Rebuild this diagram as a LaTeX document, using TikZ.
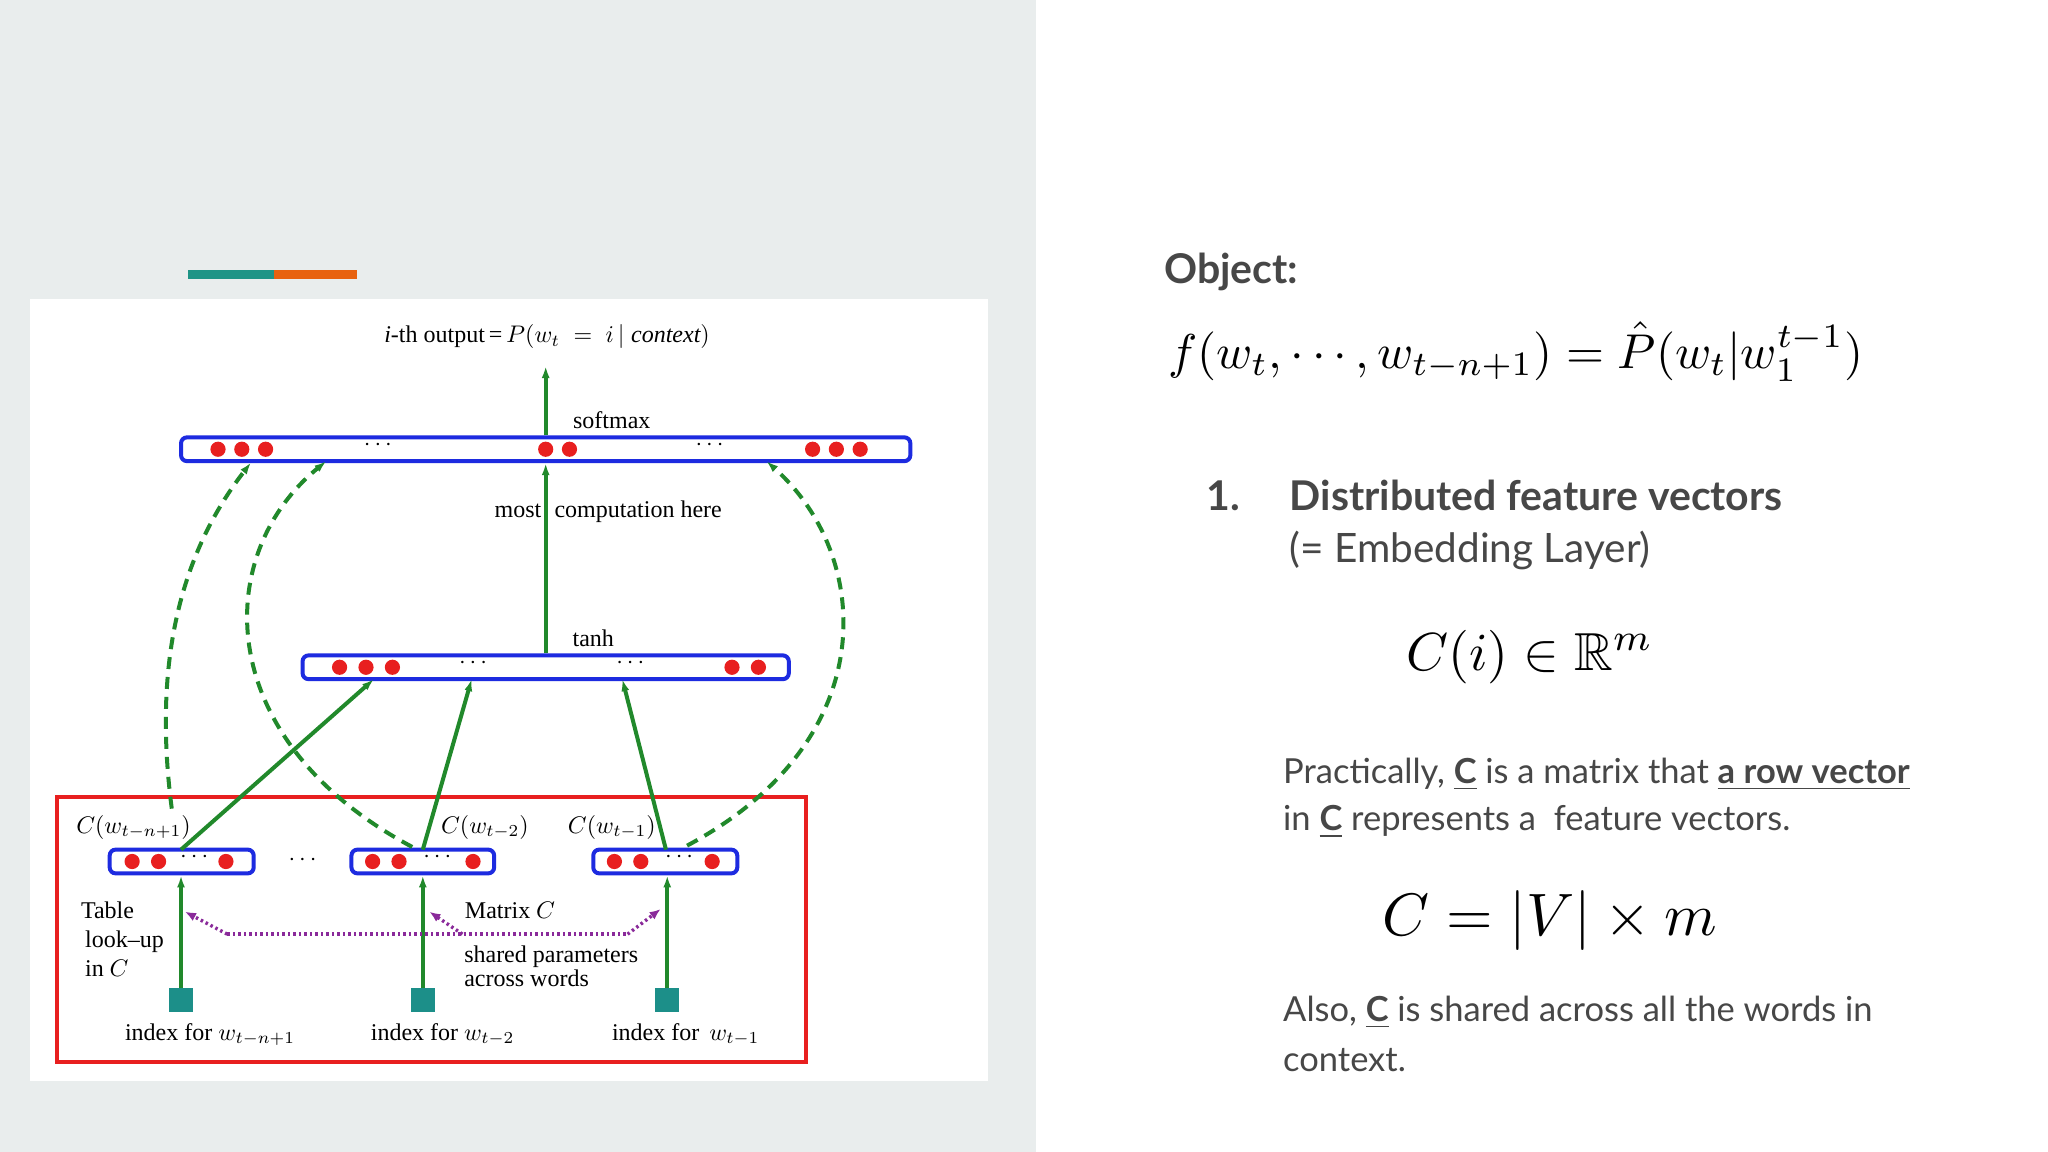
\documentclass[tikz,border=0pt]{standalone}
\usepackage{fontspec}
\usepackage{amssymb}
\setmainfont{Liberation Serif}
\newfontfamily\lato{Lato}
\usetikzlibrary{arrows.meta}
\definecolor{bgl}{HTML}{E9EDED}
\definecolor{tealb}{HTML}{1E9486}
\definecolor{orng}{HTML}{E8620F}
\definecolor{gline}{HTML}{21892B}
\definecolor{bl}{HTML}{1D2BE0}
\definecolor{rd}{HTML}{E81F1F}
\definecolor{pur}{HTML}{8A2A9A}
\definecolor{txt}{HTML}{474747}
\definecolor{sq}{HTML}{1C8F89}
\tikzset{
  layer/.style={draw=bl,line width=4pt,rounded corners=6pt,inner sep=0pt,minimum height=18*1.3213pt},
  dotr/.style={circle,fill=rd,inner sep=0pt,minimum size=11.5*1.3213pt},
  garrow/.style={draw=gline,line width=4pt,-{Latex[length=12pt,width=8pt]}},
  gdash/.style={draw=gline,line width=4pt,dash pattern=on 12pt off 8pt,-{Latex[length=12pt,width=8pt]}},
  pdot/.style={draw=pur,line width=3.4pt,dash pattern=on 2.5pt off 3pt,-{Latex[length=11pt,width=9pt]}},
  dtxt/.style={font=\fontsize{10}{12}\selectfont,inner sep=0pt,scale=2.4},
  rtxt/.style={font=\lato\fontsize{34.5}{46}\selectfont,text=txt,inner sep=0pt,anchor=west},
  sqbox/.style={fill=sq,minimum size=18*1.3213pt,inner sep=0pt},
}
\begin{document}
\begin{tikzpicture}[x=1.3213pt,y=-1.3213pt]
\useasboundingbox (0,0) rectangle (1550,871.85);
\fill[bgl] (0,0) rectangle (784,871.85);
\fill[white] (784,0) rectangle (1550,871.85);
\fill[tealb] (142,204) rectangle (207,211);
\fill[orng] (207,204) rectangle (270,211);
\fill[white] (23,226) rectangle (748,818);
% red box
\node[draw=rd,line width=4pt,minimum width=567*1.3213pt,minimum height=201*1.3213pt,inner sep=0pt] (rbox) at (326.5,703.5) {};
% layers
\node[layer,minimum width=552*1.3213pt] (tb) at (413,340) {};
\node[layer,minimum width=368*1.3213pt] (mb) at (413,505) {};
\node[layer,minimum width=109*1.3213pt] (b1) at (137.5,652) {};
\node[layer,minimum width=108*1.3213pt] (b2) at (320,652) {};
\node[layer,minimum width=109*1.3213pt] (b3) at (503.5,652) {};
% dots
\foreach \x in {165,183,201,413,431,615,633,651} \node[dotr] at (\x,340) {};
\foreach \x in {257,277,297,554,574} \node[dotr] at (\x,505) {};
\foreach \x in {100,120,171,282,302,358,465,485,539} \node[dotr] at (\x,652) {};
\foreach \x/\y in {286/340,537/340,358/505,477/505,147/652,331/652,514/652,229/654} \node[dtxt] at (\x,\y-3) {$\cdots$};
% texts
\node[dtxt] (title) at (414,255) {\textit{i}-th output\,=\,$P(w_t\;=\;i\,|\;\mathit{context})$};
\node[dtxt] (smx) at (463,318) {softmax};
\node[dtxt] (most) at (392,387) {most};
\node[dtxt] (comp) at (483,387) {computation here};
\node[dtxt] (tanh) at (449,483) {tanh};
\node[dtxt] (c1) at (101,626) {$C(w_{t-n+1})$};
\node[dtxt] (c2) at (367,626) {$C(w_{t-2})$};
\node[dtxt] (c3) at (463,626) {$C(w_{t-1})$};
\node[dtxt,anchor=west,align=left] (tab) at (61,711) {Table\\ \,look\textendash up\\ \,in $C$};
\node[dtxt] (mat) at (386,689) {Matrix $C$};
\node[dtxt,anchor=west,align=left] (shp) at (351,731) {shared parameters\\[-2pt] across words};
\node[dtxt] (i1) at (159,783) {index for $w_{t-n+1}$};
\node[dtxt] (i2) at (335,783) {index for $w_{t-2}$};
\node[dtxt] (i3) at (519,783) {index for \,$w_{t-1}$};
% squares
\node[sqbox] (s1) at (137,757) {};
\node[sqbox] (s2) at (320,757) {};
\node[sqbox] (s3) at (505,757) {};
% arrows
\coordinate (out) at (413,277);
\draw[garrow] (tb.north) -- (out);
\draw[garrow] (mb.north) -- (tb.south);
\draw[garrow] (s1.north) -- (s1.north |- b1.south);
\draw[garrow] (s2.north) -- (s2.north |- b2.south);
\draw[garrow] (s3.north) -- (s3.north |- b3.south);
\coordinate (m1) at (283,514); \coordinate (m2) at (357,514); \coordinate (m3) at (471,514);
\draw[garrow] (137,643) -- (m1);
\draw[garrow] (320,643) -- (m2);
\draw[garrow] (504,643) -- (m3);
% dashed curves
\coordinate (t1) at (190,350); \coordinate (t2) at (247,349); \coordinate (t3) at (580,349);
\draw[gdash] (130,612) .. controls (118,520) and (128,430) .. (t1);
\draw[gdash] (312,641) .. controls (160,560) and (160,420) .. (t2);
\draw[gdash] (520,640) .. controls (670,560) and (660,420) .. (t3);
% purple dotted
\coordinate (pl) at (172,707); \coordinate (pr) at (475,707); \coordinate (pm) at (350,707);
\draw[pdot] (pl) -- (140,690);
\draw[pdot] (pr) -- (500,688);
\draw[pdot] (pm) -- (325,690);
\draw[draw=pur,line width=3.4pt,dash pattern=on 2.5pt off 3pt] (pl) -- (pr);
% right text
\node[rtxt,font=\lato\bfseries\fontsize{41}{46}\selectfont] (obj) at (881,206) {Object:};
\node[text=black,inner sep=0pt,anchor=west] (f) at (884,266) {\resizebox{695pt}{!}{$f(w_t,\cdots,w_{t-n+1})=\hat{P}(w_t|w_1^{t-1})$}};
\node[rtxt,font=\lato\bfseries\fontsize{41}{46}\selectfont] (one) at (913,375) {1.};
\node[rtxt,font=\lato\bfseries\fontsize{41}{46}\selectfont] (dfv) at (976,375) {Distributed feature vectors};
\node[rtxt,font=\lato\fontsize{40.5}{46}\selectfont] (emb) at (976,417) {(= Embedding Layer)};
\node[text=black,inner sep=0pt] (ci) at (1158,497) {\resizebox{247pt}{!}{$C(i)\in\mathbb{R}^m$}};
\node[rtxt] (p1) at (971,586) {Practically, \textbf{\underline{C}} is a matrix that \textbf{\underline{a row vector}}};
\node[rtxt] (p2) at (971,622) {in \textbf{\underline{C}} represents a\ \ feature vectors.};
\node[text=black,inner sep=0pt] (cv) at (1173,697) {\resizebox{334pt}{!}{$C=|V|\times m$}};
\node[rtxt] (a1) at (971,766) {Also, \textbf{\underline{C}} is shared across all the words in};
\node[rtxt] (a2) at (971,802) {context.};
\end{tikzpicture}
\end{document}
